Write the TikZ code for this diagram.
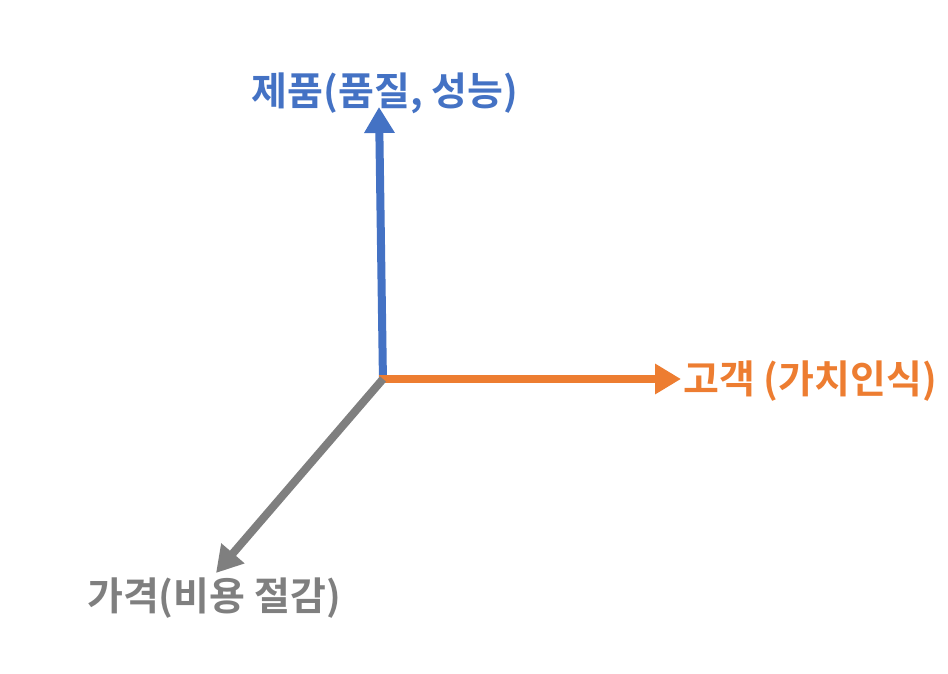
\documentclass[tikz,border=0pt]{standalone}
\usepackage{fontspec}
\newfontfamily\kr{Noto Sans CJK KR}[BoldFont={* Bold}]
\usetikzlibrary{arrows.meta}
\definecolor{cblue}{HTML}{4472C4}
\definecolor{corange}{HTML}{ED7D31}
\definecolor{cgray}{HTML}{7F7F7F}
\tikzset{
  axis/.style={line width=8pt, -{Triangle[length=26pt,width=29pt]}},
  lbl/.style={font=\kr\bfseries\fontsize{39}{45}\selectfont, inner sep=0pt}
}
\begin{document}
\begin{tikzpicture}[x=1pt,y=-1pt]
\useasboundingbox (0,0) rectangle (948,674);
\coordinate (o) at (383,379);
\coordinate (top) at (379,107);
\coordinate (right) at (681,379);
\coordinate (bl) at (216,573);
\draw[axis, cblue] (383,383) -- (top);
\draw[axis, corange] (379,379) -- (right);
\draw[axis, cgray] (o) -- (bl);
\node[lbl, text=cblue, anchor=center] (tl) at (385,93) {제품(품질, 성능)};
\node[lbl, text=corange, anchor=west] (rl) at (683,381) {고객 (가치인식)};
\node[lbl, text=cgray, anchor=center] (gl) at (214,598) {가격(비용 절감)};
\end{tikzpicture}
\end{document}
